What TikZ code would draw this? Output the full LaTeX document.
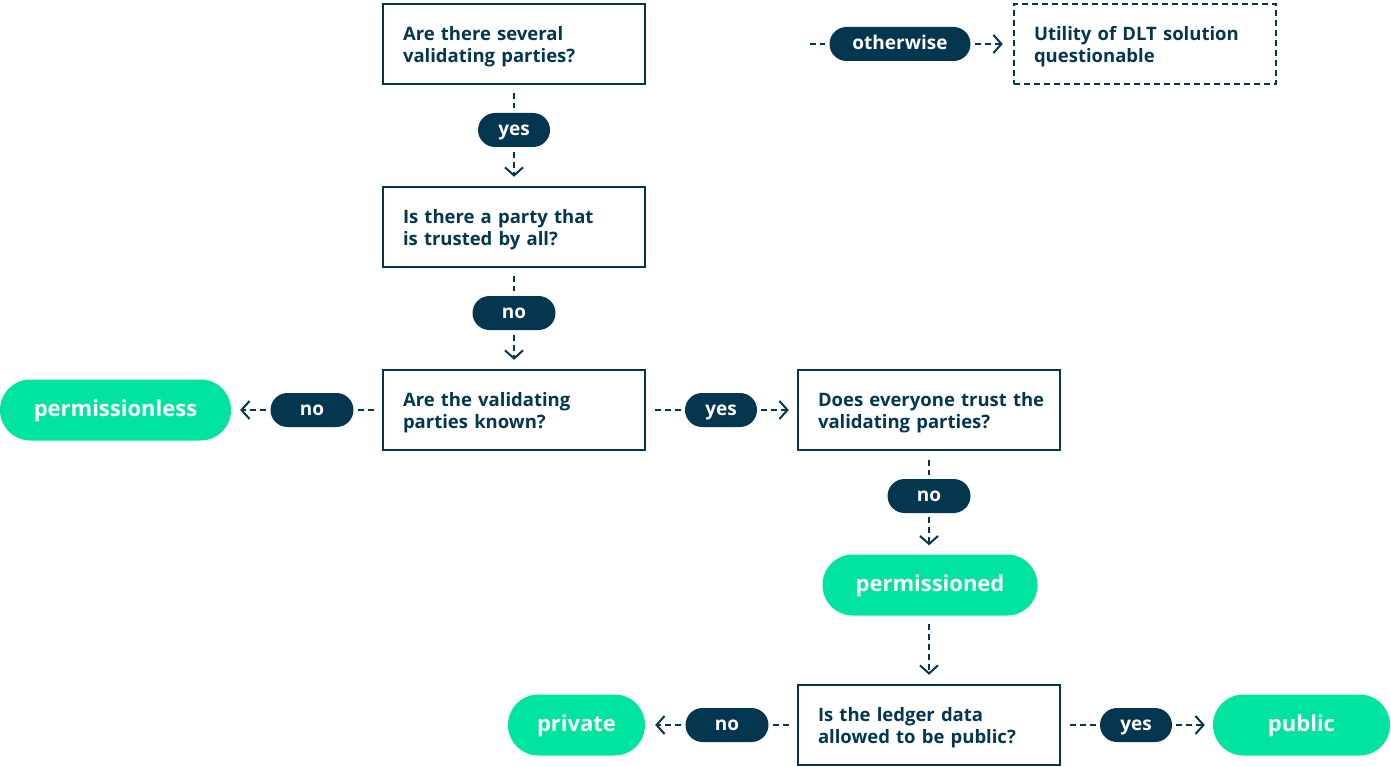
\documentclass[tikz,border=0pt]{standalone}
\usepackage{fontspec}
\setmainfont{Open Sans}
\usetikzlibrary{arrows.meta}
\definecolor{navy}{RGB}{4,54,79}
\definecolor{mint}{RGB}{0,228,160}
\tikzset{
  q/.style={draw=navy, line width=2.5pt, minimum width=262pt, minimum height=80pt,
    text width=222pt, align=left, inner xsep=20pt, text=navy,
    font=\bfseries\fontsize{18.5}{22}\selectfont,
    execute at begin node={\rule{0pt}{20pt}}},
  qd/.style={q, dash pattern=on 6pt off 4pt},
  lab/.style={fill=navy, text=white, rounded corners=17pt, minimum height=34pt,
    inner xsep=0pt, text height=10.5pt, text depth=0pt,
    font=\bfseries\fontsize{19}{22}\selectfont},
  res/.style={fill=mint, text=white, rounded corners=30.5pt, minimum height=61pt,
    inner xsep=0pt, text height=13pt, text depth=0pt,
    font=\bfseries\fontsize{22}{26}\selectfont},
  conn/.style={navy, line width=2pt, dash pattern=on 6pt off 4pt},
  arr/.style={conn, -{Straight Barb[length=8pt,width=18pt,line width=2pt]}},
}
\begin{document}
\begin{tikzpicture}[x=1pt,y=-1pt]
\useasboundingbox (0,0) rectangle (1391,767);
% questions
\node[q] (b1) at (514,44) {Are there several\\validating parties?};
\node[q] (b2) at (514,227) {Is there a party that\\is trusted by all?};
\node[q] (b3) at (514,410) {Are the validating\\parties known?};
\node[q] (b4) at (929,410) {\mbox{Does everyone trust the}\\validating parties?};
\node[q] (b5) at (929,725) {Is the ledger data\\allowed to be public?};
\node[qd] (bd) at (1145,44) {\mbox{Utility of DLT solution}\\questionable};
% labels
\node[lab, minimum width=72pt] (l1) at (514,130) {yes};
\node[lab, minimum width=83pt] (l2) at (514,313) {no};
\node[lab, minimum width=83pt] (l3) at (312,410) {no};
\node[lab, minimum width=72pt] (l4) at (721,410) {yes};
\node[lab, minimum width=83pt] (l5) at (929,496) {no};
\node[lab, minimum width=83pt] (l6) at (727,725) {no};
\node[lab, minimum width=72pt] (l7) at (1136,725) {yes};
\node[lab, minimum width=141pt] (lo) at (900,44) {otherwise};
% results
\node[res, minimum width=231pt] (r1) at (115.5,410) {permissionless};
\node[res, minimum width=215pt] (r2) at (930,585) {permissioned};
\node[res, minimum width=137pt] (r3) at (576.5,725) {private};
\node[res, minimum width=177pt] (r4) at (1301.5,725) {public};
\coordinate (o0) at (810,44);
% connectors
\draw[conn, shorten <=8pt, shorten >=5pt] (b1) -- (l1);
\draw[arr, shorten <=5pt, shorten >=9pt] (l1) -- (b2);
\draw[conn, shorten <=8pt, shorten >=5pt] (b2) -- (l2);
\draw[arr, shorten <=5pt, shorten >=9pt] (l2) -- (b3);
\draw[conn, shorten <=8pt, shorten >=4pt] (b3) -- (l3);
\draw[arr, shorten <=4pt, shorten >=9pt] (l3) -- (r1);
\draw[conn, shorten <=9pt, shorten >=4pt] (b3) -- (l4);
\draw[arr, shorten <=4pt, shorten >=8pt] (l4) -- (b4);
\draw[conn, shorten <=9pt, shorten >=4pt] (b4) -- (l5);
\draw[arr, shorten <=4pt, shorten >=9pt] (l5) -- (r2.north -| l5);
\draw[arr, shorten <=8pt, shorten >=9pt] (r2.south -| b5) -- (b5);
\draw[conn, shorten <=8pt, shorten >=4pt] (b5) -- (l6);
\draw[arr, shorten <=4pt, shorten >=10pt] (l6) -- (r3);
\draw[conn, shorten <=9pt, shorten >=4pt] (b5) -- (l7);
\draw[arr, shorten <=4pt, shorten >=8pt] (l7) -- (r4);
\draw[conn, shorten >=4pt] (o0) -- (lo);
\draw[arr, shorten <=4pt, shorten >=10pt] (lo) -- (bd);
\end{tikzpicture}
\end{document}
